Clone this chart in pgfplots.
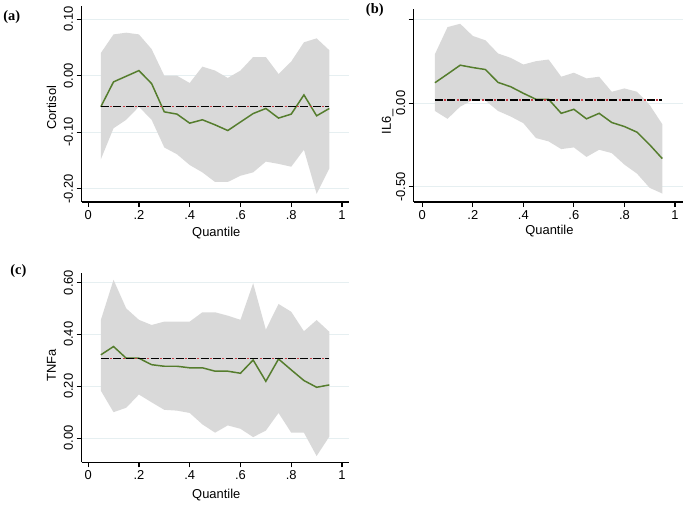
\documentclass[border=0pt]{standalone}
\usepackage{pgfplots}
\pgfplotsset{compat=1.18}
\usepackage{pgfplotstable}
\usepgfplotslibrary{fillbetween}
\usepackage{fontspec}
\setmainfont{Liberation Sans}
\newfontfamily\tnr{Liberation Serif}
\definecolor{band}{RGB}{217,217,217}
\definecolor{estc}{RGB}{85,125,45}
\definecolor{gridc}{RGB}{230,239,241}
\definecolor{refred}{RGB}{200,60,70}

\pgfplotstableread{
q est lo hi
0.05 -0.055 -0.148 0.040
0.10 -0.011 -0.093 0.073
0.15 -0.001 -0.078 0.076
0.20 0.009 -0.055 0.073
0.25 -0.014 -0.078 0.047
0.30 -0.064 -0.127 0.000
0.35 -0.068 -0.139 0.000
0.40 -0.084 -0.158 -0.013
0.45 -0.078 -0.171 0.016
0.50 -0.087 -0.188 0.009
0.55 -0.097 -0.188 -0.004
0.60 -0.082 -0.177 0.009
0.65 -0.067 -0.171 0.033
0.70 -0.058 -0.152 0.033
0.75 -0.075 -0.156 0.003
0.80 -0.068 -0.161 0.025
0.85 -0.034 -0.131 0.059
0.90 -0.071 -0.209 0.066
0.95 -0.058 -0.164 0.045
}\da

\pgfplotstableread{
q est lo hi
0.05 0.123 -0.046 0.294
0.10 0.175 -0.093 0.456
0.15 0.228 -0.020 0.476
0.20 0.214 0.020 0.403
0.25 0.202 0.016 0.377
0.30 0.125 -0.046 0.298
0.35 0.099 -0.079 0.272
0.40 0.060 -0.119 0.232
0.45 0.024 -0.208 0.252
0.50 0.024 -0.228 0.262
0.55 -0.060 -0.274 0.159
0.60 -0.036 -0.264 0.183
0.65 -0.093 -0.321 0.149
0.70 -0.060 -0.278 0.159
0.75 -0.115 -0.298 0.069
0.80 -0.139 -0.367 0.089
0.85 -0.173 -0.421 0.069
0.90 -0.248 -0.506 -0.010
0.95 -0.331 -0.540 -0.125
}\db

\pgfplotstableread{
q est lo hi
0.05 0.321 0.183 0.455
0.10 0.353 0.100 0.610
0.15 0.308 0.117 0.500
0.20 0.308 0.168 0.456
0.25 0.283 0.138 0.436
0.30 0.277 0.109 0.449
0.35 0.277 0.106 0.449
0.40 0.271 0.097 0.449
0.45 0.271 0.053 0.485
0.50 0.258 0.021 0.485
0.55 0.258 0.049 0.472
0.60 0.250 0.036 0.456
0.65 0.301 0.004 0.597
0.70 0.219 0.029 0.418
0.75 0.305 0.097 0.517
0.80 0.263 0.021 0.487
0.85 0.222 0.021 0.412
0.90 0.196 -0.069 0.455
0.95 0.205 0.006 0.410
}\dc

\pgfplotsset{
 panel/.style={
  scale only axis,
  anchor=south west,
  axis x line*=bottom, axis y line*=left,
  axis line style={black, line width=1.2pt, -},
  tick style={black, line width=1.2pt},
  tick align=outside,
  major tick length=5bp,
  xtick={0,0.2,0.4,0.6,0.8,1},
  xticklabels={0,.2,.4,.6,.8,1},
  ymajorgrids,
  major grid style={gridc, line width=0.9pt},
  ticklabel style={font=\fontsize{13}{15}\selectfont},
  yticklabel style={rotate=90, anchor=south},
  label style={font=\fontsize{13}{15}\selectfont},
  xlabel={Quantile},
 },
 estline/.style={estc, line width=1.5pt},
 redref/.style={refred, line width=1.4pt, dash pattern=on 2bp off 10.5bp, dash phase=3.25bp},
 blkref/.style={black, line width=1.4pt, dash pattern=on 8bp off 4.5bp},
}

\begin{document}
\begin{tikzpicture}
\path (0,0) rectangle (685bp,500bp);

% (a)
\begin{axis}[panel, at={(80bp,299bp)}, width=268bp, height=197bp,
  xmin=-0.026, xmax=1.027, ymin=-0.2235, ymax=0.124,
  ytick={-0.2,-0.1,0,0.1}, yticklabels={-0.20,-0.10,0.00,0.10},
  ylabel={Cortisol},
  xlabel style={at={(axis description cs:0.504,-0.156)}, anchor=center},
  ylabel style={at={(axis description cs:-0.112,0.48)}, anchor=center}]
\addplot[name path=hi, draw=none] table[x=q,y=hi]{\da};
\addplot[name path=lo, draw=none] table[x=q,y=lo]{\da};
\addplot[band, draw=none] fill between[of=hi and lo];
\addplot[estline] table[x=q,y=est]{\da};
\addplot[redref] coordinates {(0.05,-0.055) (0.95,-0.055)};
\addplot[blkref] coordinates {(0.05,-0.055) (0.95,-0.055)};
\end{axis}

% (b)
\begin{axis}[panel, at={(413bp,299bp)}, width=270bp, height=194bp,
  xmin=-0.034, xmax=1.032, ymin=-0.591, ymax=0.567,
  ytick={-0.5,0,0.5}, yticklabels={-0.50,0.00,{}},
  ylabel={IL6\_},
  xlabel style={at={(axis description cs:0.504,-0.15)}, anchor=center},
  ylabel style={at={(axis description cs:-0.097,0.414)}, anchor=center}]
\addplot[name path=hi, draw=none] table[x=q,y=hi]{\db};
\addplot[name path=lo, draw=none] table[x=q,y=lo]{\db};
\addplot[band, draw=none] fill between[of=hi and lo];
\addplot[estline] table[x=q,y=est]{\db};
\addplot[redref] coordinates {(0.05,0.020) (0.95,0.020)};
\addplot[blkref] coordinates {(0.05,0.020) (0.95,0.020)};
\end{axis}

% (c)
\begin{axis}[panel, at={(80bp,38bp)}, width=268bp, height=190.3bp,
  xmin=-0.026, xmax=1.027, ymin=-0.0935, ymax=0.638,
  ytick={0,0.2,0.4,0.6}, yticklabels={0.00,0.20,0.40,0.60},
  ylabel={TNFa},
  xlabel style={at={(axis description cs:0.504,-0.173)}, anchor=center},
  ylabel style={at={(axis description cs:-0.112,0.51)}, anchor=center}]
\addplot[name path=hi, draw=none] table[x=q,y=hi]{\dc};
\addplot[name path=lo, draw=none] table[x=q,y=lo]{\dc};
\addplot[band, draw=none] fill between[of=hi and lo];
\addplot[estline] table[x=q,y=est]{\dc};
\addplot[redref] coordinates {(0.05,0.308) (0.95,0.308)};
\addplot[blkref] coordinates {(0.05,0.308) (0.95,0.308)};
\end{axis}

\node[font=\tnr\bfseries\fontsize{14.5}{16}\selectfont] at (10bp,484bp) {(a)};
\node[font=\tnr\bfseries\fontsize{14.5}{16}\selectfont] at (374bp,491.7bp) {(b)};
\node[font=\tnr\bfseries\fontsize{14.5}{16}\selectfont] at (16.7bp,229.5bp) {(c)};
\end{tikzpicture}
\end{document}
